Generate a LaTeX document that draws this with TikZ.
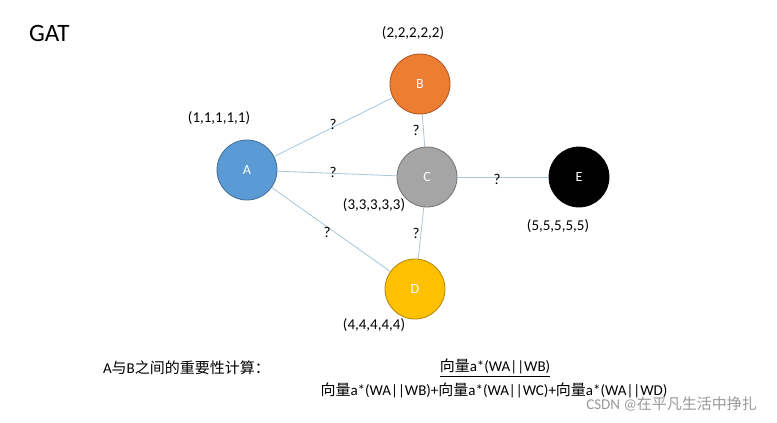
\documentclass[tikz,border=0pt]{standalone}
\usepackage{fontspec}
\setmainfont{Carlito}
\newfontfamily\cjk{Noto Sans CJK SC}
\definecolor{cA}{HTML}{5B9BD5}
\definecolor{cB}{HTML}{ED7D31}
\definecolor{cC}{HTML}{A5A5A5}
\definecolor{cD}{HTML}{FFC000}
\definecolor{edge}{HTML}{A9C6DA}
\begin{document}
\begin{tikzpicture}[x=0.5pt,y=-0.5pt,
  vert/.style={circle,minimum size=30pt,inner sep=0pt,text=white,font=\fontsize{7}{8}\selectfont,draw=#1!70!black,fill=#1},
  lab/.style={font=\fontsize{7.5}{9}\selectfont},
  q/.style={font=\fontsize{7.5}{9}\selectfont},
  link/.style={draw=edge,line width=0.4pt}]
\useasboundingbox (0,0) rectangle (777,423);
\fill[white] (0,0) rectangle (777,423);
\node[font=\fontsize{12.5}{14}\selectfont,anchor=west] (t) at (22,33) {GAT};
\node[vert=cA] (A) at (247,170) {A};
\node[vert=cB] (B) at (420,84) {B};
\node[vert=cC] (C) at (427,177) {C};
\node[vert=cD] (D) at (415,289) {D};
\node[vert=black] (E) at (579,177) {E};
\draw[link] (A) -- (B);
\draw[link] (A) -- (C);
\draw[link] (A) -- (D);
\draw[link] (B) -- (C);
\draw[link] (C) -- (D);
\draw[link] (C) -- (E);
\node[q] (q1) at (333,124) {?};
\node[q] (q2) at (333,172) {?};
\node[q] (q3) at (327,232) {?};
\node[q] (q4) at (416,130) {?};
\node[q] (q5) at (416,233) {?};
\node[q] (q6) at (497,179) {?};
\node[lab] (lA) at (219,118) {(1,1,1,1,1)};
\node[lab] (lB) at (413,33) {(2,2,2,2,2)};
\node[lab] (lC) at (374,205) {(3,3,3,3,3)};
\node[lab] (lE) at (558,226) {(5,5,5,5,5)};
\node[lab] (lD) at (374,325) {(4,4,4,4,4)};
\node[lab,anchor=west] (f) at (96,368) {A\cjk 与\rmfamily B\cjk 之间的重要性计算：};
\node[lab] (num) at (495,368) {\underline{\cjk 向量\rmfamily a*(WA||WB)}};
\node[lab] (den) at (494,390) {\cjk 向量\rmfamily a*(WA||WB)+\cjk 向量\rmfamily a*(WA||WC)+\cjk 向量\rmfamily a*(WA||WD)};
\node[lab,text=gray!80,anchor=east] (wm) at (764,404) {CSDN @\cjk 在平凡生活中挣扎};
\end{tikzpicture}
\end{document}
